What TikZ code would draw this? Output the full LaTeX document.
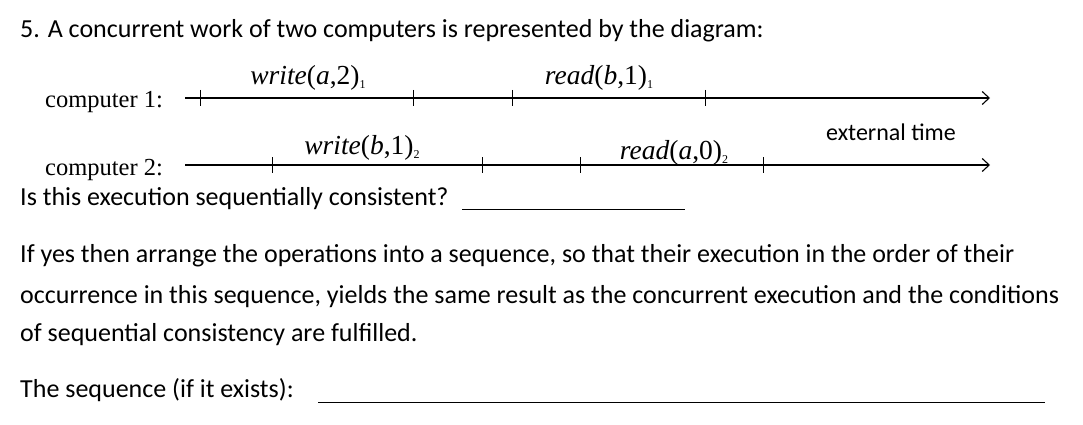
\documentclass[tikz,border=0pt]{standalone}
\usepackage{fontspec}
\setmainfont{Carlito}
\newfontfamily\tms{Liberation Serif}
\usetikzlibrary{arrows.meta}
\newcommand{\sbx}[1]{\raisebox{-4pt}{\upshape\fontsize{12}{12}\selectfont #1}}
\begin{document}
\begin{tikzpicture}[x=1pt,y=-1pt,
  txt/.style={anchor=base west,inner sep=0pt,font=\fontsize{26}{30}\selectfont},
  lab/.style={anchor=base,inner sep=0pt,font=\tms\itshape\fontsize{27.5}{30}\selectfont},
  comp/.style={anchor=base west,inner sep=0pt,font=\tms\fontsize{24.5}{28}\selectfont},
  tline/.style={line width=1.1pt,-{Straight Barb[length=7pt,width=13pt]}},
  tk/.style={line width=0.8pt}]
\useasboundingbox (0,0) rectangle (1083,425);
\node[txt] (t1) at (20,38) {5. A concurrent work of two computers is represented by the diagram:};
\node[comp] (c1) at (45,108) {computer 1:};
\node[comp] (c2) at (45,175) {computer 2:};
\coordinate (s1) at (185,98); \coordinate (e1) at (990,98);
\coordinate (s2) at (185,165); \coordinate (e2) at (990,165);
\draw[tline] (s1) -- (e1);
\draw[tline] (s2) -- (e2);
\foreach \x in {200,413,512,705} \draw[tk] (\x,90) -- (\x,106);
\foreach \x in {272,482,580,763} \draw[tk] (\x,157) -- (\x,173);
\node[lab] (w1) at (308,85) {write\textup{(}a\textup{,2)}\sbx{1}};
\node[lab] (r1) at (599,85) {read\textup{(}b\textup{,1)}\sbx{1}};
\node[lab] (w2) at (362,154) {write\textup{(}b\textup{,1)}\sbx{2}};
\node[lab] (r2) at (674,159) {read\textup{(}a\textup{,0)}\sbx{2}};
\node[anchor=base,inner sep=0pt,font=\fontsize{24}{28}\selectfont] (ext) at (891,140) {external time};
\node[txt] (q) at (20,205) {Is this execution sequentially consistent?};
\draw[line width=0.6pt] (462,209) -- (685,209);
\node[txt] (p1) at (20,262) {If yes then arrange the operations into a sequence, so that their execution in the order of their};
\node[txt] (p2) at (20,303) {occurrence in this sequence, yields the same result as the concurrent execution and the conditions};
\node[txt] (p3) at (20,341) {of sequential consistency are fulfilled.};
\node[txt] (sq) at (20,397) {The sequence (if it exists):};
\draw[line width=0.6pt] (318,402) -- (1045,402);
\end{tikzpicture}
\end{document}
